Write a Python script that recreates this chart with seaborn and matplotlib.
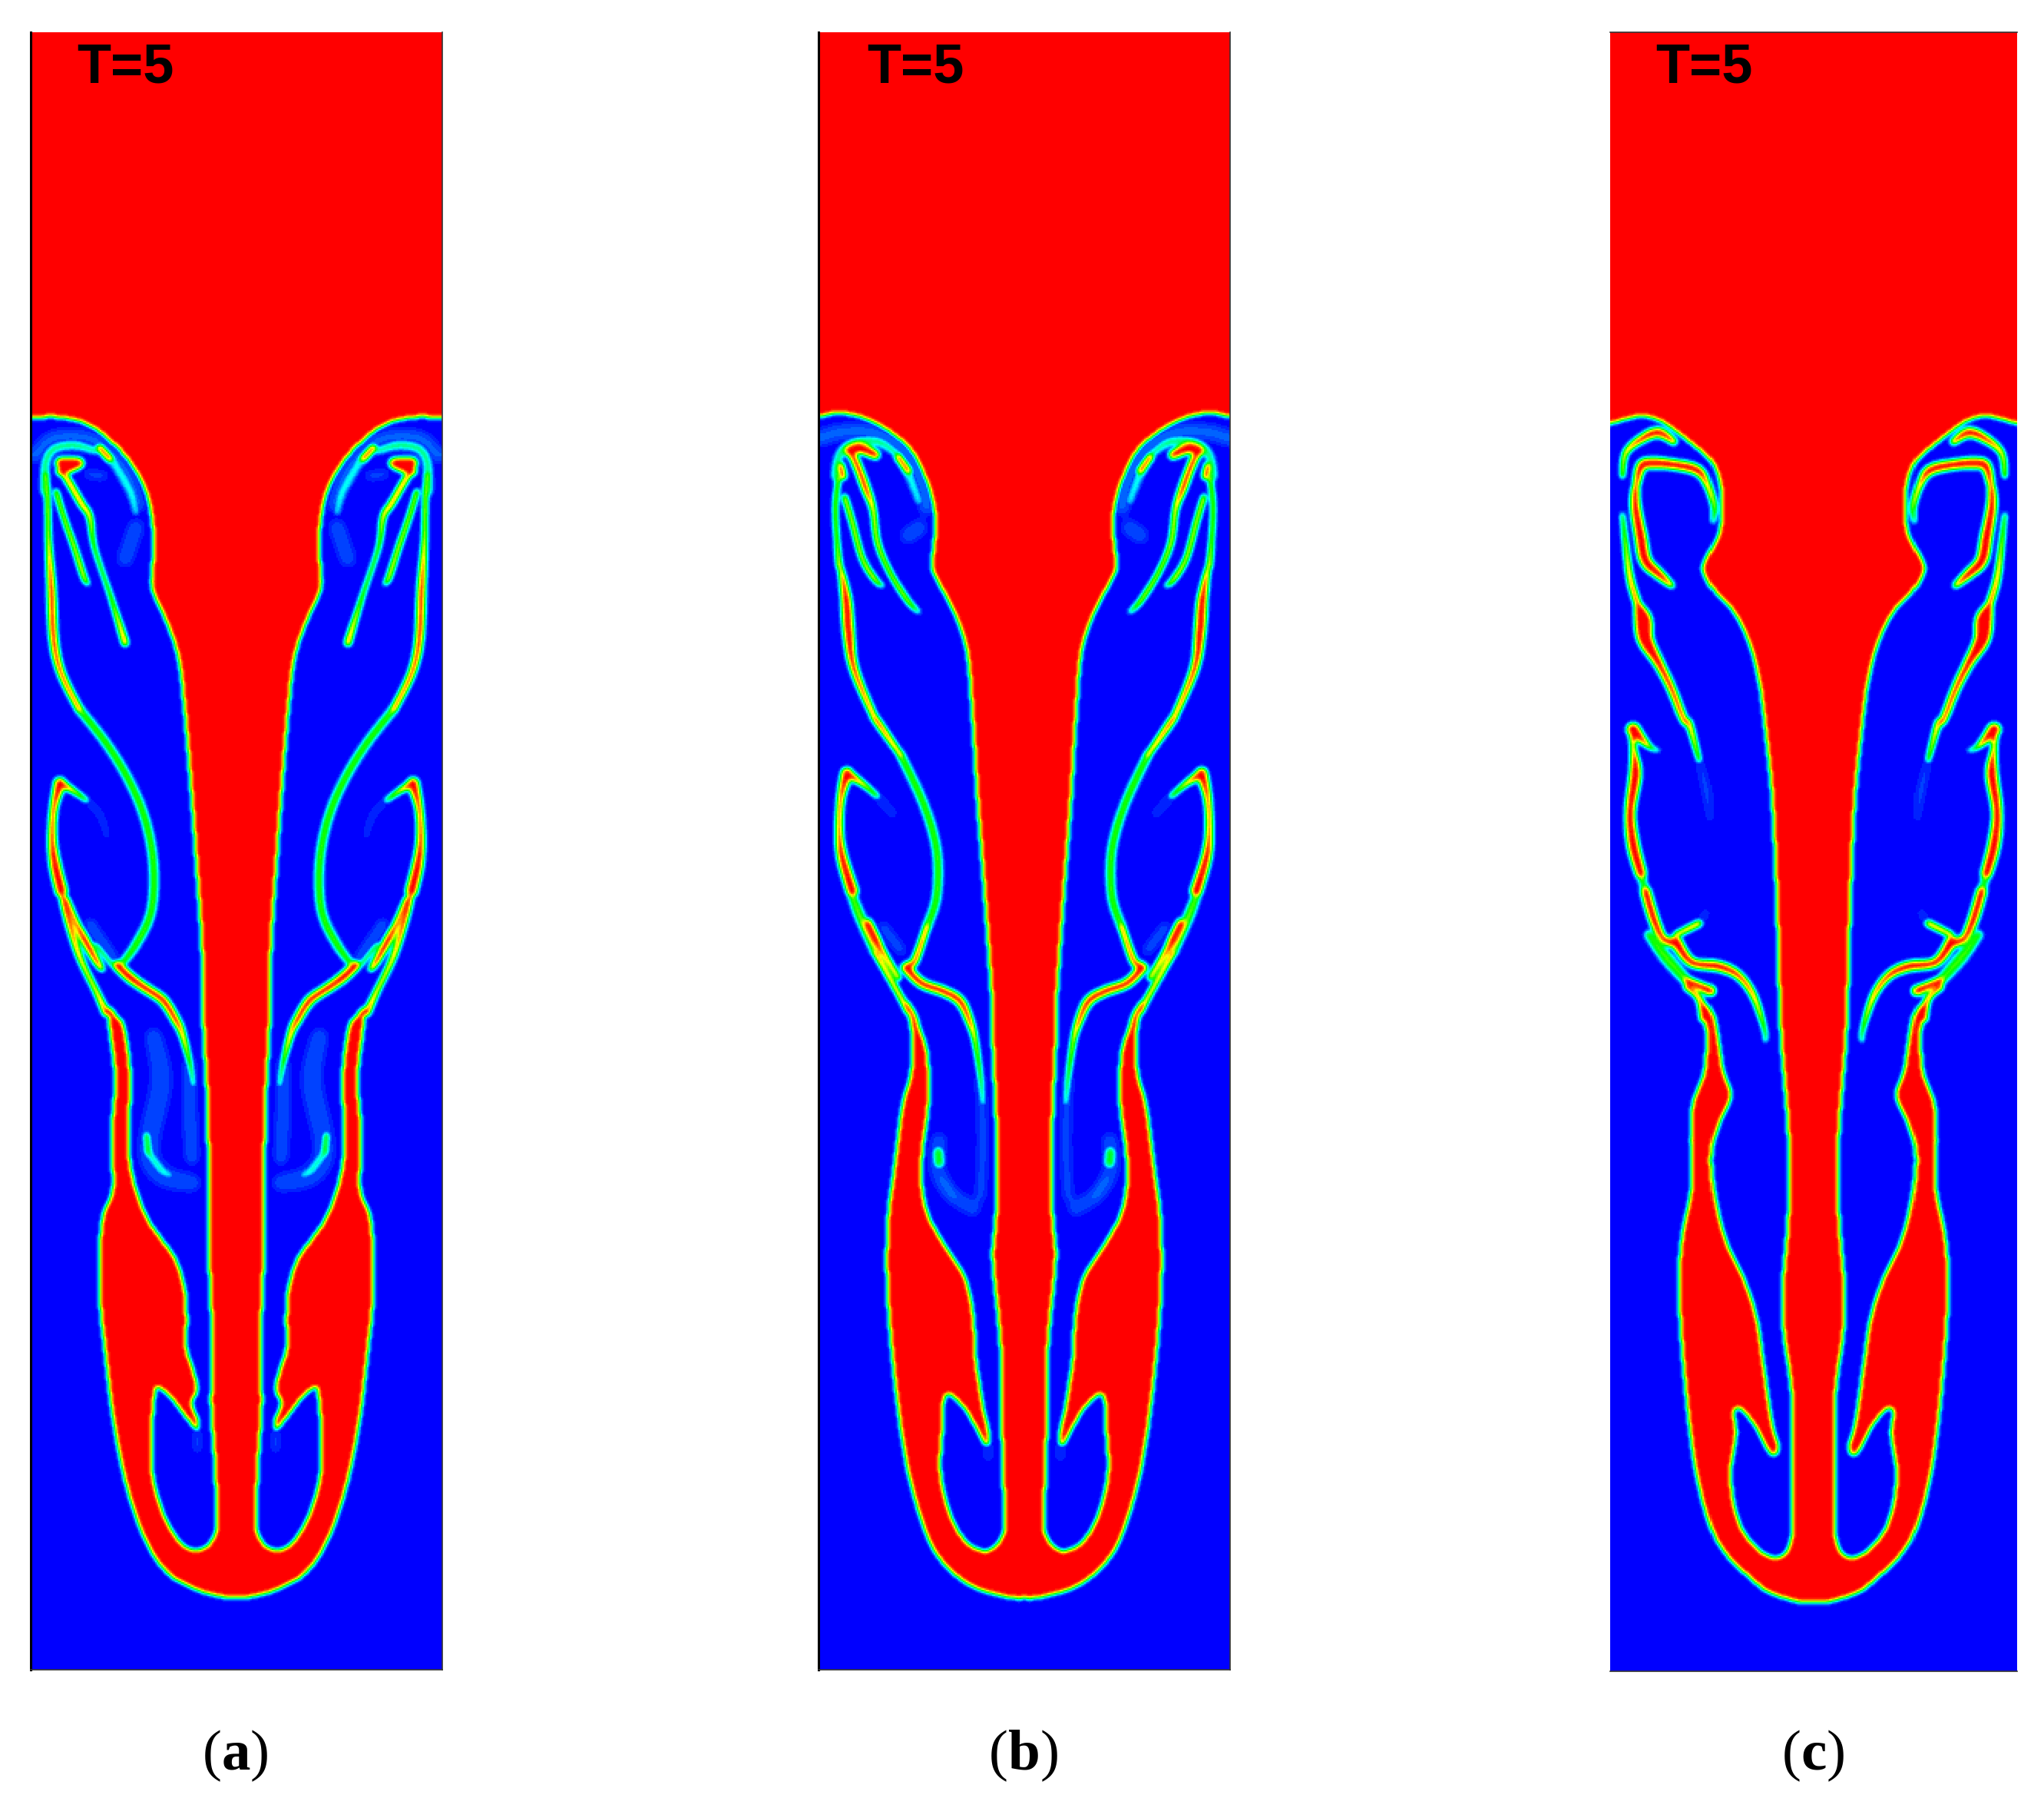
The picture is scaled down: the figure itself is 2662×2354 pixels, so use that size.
import numpy as np
import seaborn as sns
import matplotlib
matplotlib.use("Agg")
import matplotlib.pyplot as plt
from matplotlib.colors import LinearSegmentedColormap
from matplotlib.path import Path

# all traced values are image pixels of the reference (x, y) or (x, y, half width)
WIDTH, HEIGHT = 2662, 2354
STEP = 2
BLUR = 3.0
HAZE_BLUR = 5.0
HAZE_GAIN = 0.7
WIDTH_GAIN = 1.2

T_LABEL = "T=5"
CAPTIONS = ["a", "b", "c"]
PANEL_LEFT = [40, 1066, 2097]
PANEL_RIGHT = [576, 1602, 2627]
PANEL_TOP = [42, 42, 42]
PANEL_BOTTOM = [2174, 2174, 2176]
T_X = [100, 1129, 2156]
CAPTION_X = [307, 1334, 2362]

# red region of the left half of each panel, first two points are the top corners
OUTLINE_A = [(40, 42), (308, 42), (308, 2081), (290, 2079), (257, 2070), (217, 2047), (187, 2000),
             (163, 1927), (147, 1843), (137, 1760), (130, 1690), (130, 1623), (135, 1580), (147, 1547),
             (145, 1480), (150, 1407), (143, 1340), (140, 1312), (150, 1320), (162, 1340), (170, 1407),
             (167, 1480), (173, 1533), (190, 1583), (210, 1613), (230, 1643), (242, 1690), (243, 1757),
             (247, 1770), (257, 1807), (250, 1827), (258, 1850), (255, 1860), (223, 1820), (212, 1810),
             (202, 1813), (197, 1893), (203, 1940), (217, 1980), (237, 2010), (257, 2018), (275, 2007),
             (282, 1983), (280, 1910), (275, 1827), (277, 1760), (273, 1657), (272, 1573), (270, 1440),
             (265, 1337), (263, 1237), (255, 1113), (247, 1003), (240, 920), (233, 860), (220, 817),
             (202, 777), (197, 757), (200, 717), (198, 677), (190, 640), (173, 607), (147, 577),
             (113, 552), (73, 543), (40, 545)]

OUTLINE_B = [(1066, 42), (1334, 42), (1334, 2081), (1310, 2079), (1260, 2062), (1217, 2019), (1190, 1946),
             (1173, 1859), (1160, 1742), (1155, 1655), (1157, 1582), (1165, 1519), (1175, 1442),
             (1187, 1393), (1187, 1340), (1180, 1305), (1192, 1320), (1198, 1340), (1207, 1369),
             (1210, 1427), (1202, 1495), (1200, 1534), (1207, 1577), (1227, 1616), (1257, 1665),
             (1268, 1718), (1270, 1762), (1280, 1830), (1288, 1868), (1283, 1880), (1260, 1839),
             (1240, 1817), (1230, 1820), (1228, 1854), (1225, 1917), (1237, 1970), (1257, 2006),
             (1280, 2019), (1295, 2014), (1306, 1998), (1308, 1975), (1305, 1873), (1303, 1752),
             (1293, 1640), (1297, 1582), (1298, 1485), (1292, 1340), (1292, 1307), (1283, 1173),
             (1273, 1040), (1267, 940), (1260, 853), (1247, 807), (1227, 767), (1215, 743), (1215, 720),
             (1218, 687), (1215, 653), (1203, 617), (1187, 587), (1160, 563), (1127, 545), (1093, 538),
             (1066, 543)]

OUTLINE_C = [(2097, 42), (2362, 42), (2362, 2087), (2340, 2085), (2310, 2076), (2287, 2062), (2237, 2009),
             (2210, 1922), (2195, 1805), (2187, 1689), (2190, 1616), (2203, 1544), (2202, 1485), (2205, 1437),
             (2220, 1393), (2222, 1340), (2218, 1305), (2230, 1320), (2235, 1340), (2243, 1393),
             (2253, 1427), (2237, 1466), (2228, 1505), (2233, 1558), (2247, 1616), (2270, 1665),
             (2287, 1718), (2297, 1786), (2307, 1854), (2315, 1885), (2305, 1893), (2283, 1854),
             (2265, 1834), (2257, 1839), (2260, 1868), (2253, 1922), (2263, 1980), (2287, 2016),
             (2310, 2028), (2324, 2022), (2332, 2002), (2333, 1970), (2333, 1825), (2320, 1704), (2328, 1582),
             (2328, 1476), (2318, 1340), (2313, 1173), (2307, 1040), (2297, 940), (2290, 887),
             (2277, 837), (2257, 797), (2227, 763), (2218, 743), (2220, 730), (2237, 697), (2242, 660),
             (2237, 620), (2223, 595), (2183, 562), (2160, 547), (2137, 542), (2113, 547), (2097, 552)]

# thin strands, each one (peak level, points), low levels are the pale patches
STRANDS_A = [
    (0.6, [(157, 1257, 3), (177, 1230, 4), (197, 1187, 4), (200, 1127, 4), (190, 1070, 4), (170, 1020, 4),
           (140, 970, 4), (103, 923, 4)]),
    (1.0, [(103, 923, 3.2), (80, 877, 3.5), (70, 833, 4), (67, 767, 4), (63, 700, 2.2), (62, 650, 2), (60, 617, 1.5)]),
    (1.0, [(153, 1257, 5), (170, 1273, 5), (190, 1287, 4.5), (213, 1303, 4.5), (230, 1330, 4), (237, 1345, 3),
           (247, 1383, 1.6), (252, 1413, 0.8)]),
    (1.0, [(78, 1020, 6), (70, 1053, 3.5), (68, 1093, 4), (72, 1127, 5.5), (80, 1160, 6)]),
    (1.0, [(78, 1020, 5), (93, 1028, 2.5), (113, 1042, 1.3)]),
    (0.14, [(113, 1042, 3), (130, 1060, 3), (140, 1090, 2.5)]),
    (1.0, [(80, 1160, 3), (87, 1190, 3.5), (100, 1235, 3), (110, 1260, 2.5), (125, 1290, 2.5), (138, 1318, 3.5)]),
    (1.0, [(87, 1170, 1.8), (100, 1203, 3), (110, 1223, 4.5), (127, 1253, 3.5), (133, 1262, 2)]),
    (0.15, [(117, 1203, 6), (140, 1237, 6), (150, 1250, 5)]),
    (1.0, [(125, 1230, 1.2), (145, 1255, 1.2)]),
    (1.0, [(80, 603, 6), (103, 603, 5), (80, 613, 5)]),
    (1.0, [(84, 618, 3), (93, 633, 3), (107, 657, 3), (117, 673, 2.5), (123, 713, 1.6), (143, 773, 1.6), (163, 837, 3.2)]),
    (1.0, [(73, 640, 2), (83, 673, 2), (97, 713, 2.2), (110, 753, 2.2), (116, 760, 0.7)]),
    (1.0, [(130, 583, 3.5), (143, 597, 3.5)]),
    (0.4, [(58, 640, 4), (60, 600, 4), (73, 583, 4), (100, 580, 4), (123, 587, 3)]),
    (0.3, [(147, 600, 4), (170, 640, 4), (177, 667, 2.5)]),
    (0.15, [(47, 593, 8), (70, 570, 8), (123, 573, 8), (163, 613, 8), (180, 657, 8)]),
    (0.13, [(177, 687, 9), (163, 727, 9)]),
    (0.13, [(115, 617, 5), (135, 620, 5)]),
    (0.12, [(200, 1350, 10), (210, 1407, 12), (195, 1480, 12), (197, 1513, 12), (217, 1533, 12), (250, 1540, 10)]),
    (0.13, [(247, 1383, 7), (247, 1440, 8), (250, 1507, 8)]),
    (0.55, [(191, 1478, 3), (193, 1500, 3.5)]),
    (0.35, [(193, 1500, 3.5), (210, 1523, 3.5), (222, 1530, 2)]),
    (0.14, [(257, 1866, 4), (257, 1887, 4)]),
]

STRANDS_B = [
    (0.15, [(1070, 570, 9), (1093, 563, 9), (1137, 563, 9), (1177, 587, 9), (1200, 627, 9), (1207, 660, 9)]),
    (0.13, [(1183, 697, 9), (1197, 687, 9)]),
    (0.4, [(1088, 620, 4), (1093, 593, 4), (1110, 577, 4), (1143, 575, 4), (1167, 590, 3)]),
    (0.3, [(1167, 590, 3), (1183, 617, 4), (1197, 653, 3)]),
    (1.0, [(1170, 595, 3.5), (1183, 613, 3.5)]),
    (1.0, [(1107, 587, 6), (1120, 583, 6), (1140, 592, 4.5)]),
    (1.0, [(1110, 592, 4), (1118, 610, 4), (1128, 637, 4), (1137, 663, 2.5), (1143, 707, 2.2), (1160, 747, 2),
           (1183, 783, 2), (1197, 797, 0.8)]),
    (1.0, [(1095, 607, 3.5), (1098, 620, 3.5)]),
    (1.0, [(1100, 647, 2.2), (1110, 680, 2.2), (1123, 727, 2.2), (1140, 755, 2.2), (1150, 763, 0.8)]),
    (1.0, [(1092, 623, 1.8), (1088, 660, 1.8), (1090, 703, 1.8), (1093, 737, 2.5)]),
    (1.0, [(1095, 740, 2.2), (1102, 780, 5), (1105, 820, 5.5), (1112, 870, 4), (1137, 930, 3), (1143, 940, 3.5),
           (1173, 983, 2.5)]),
    (0.6, [(1173, 983, 4), (1203, 1047, 4), (1220, 1107, 4), (1220, 1167, 4), (1207, 1207, 4)]),
    (1.0, [(1207, 1207, 3), (1192, 1250, 3.5), (1183, 1257, 4)]),
    (1.0, [(1180, 1260, 5), (1200, 1280, 4.5), (1227, 1290, 4.5), (1250, 1303, 4.5), (1263, 1330, 3.5),
           (1270, 1355, 2.2), (1277, 1403, 1.4), (1280, 1437, 0.8)]),
    (1.0, [(1103, 1007, 6), (1095, 1040, 3.5), (1093, 1083, 3.5), (1097, 1117, 5), (1110, 1160, 6)]),
    (1.0, [(1103, 1007, 5), (1123, 1020, 2.5), (1143, 1037, 1.4)]),
    (0.13, [(1143, 1037, 4), (1163, 1060, 4)]),
    (0.6, [(1110, 1167, 4), (1120, 1193, 5), (1140, 1240, 4)]),
    (1.0, [(1140, 1240, 2.8), (1170, 1293, 2.5), (1183, 1317, 3)]),
    (1.0, [(1130, 1203, 5), (1140, 1223, 5), (1150, 1240, 3), (1170, 1273, 2.4)]),
    (0.13, [(1150, 1207, 6), (1173, 1237, 6)]),
    (0.5, [(1222, 1500, 5), (1223, 1514, 5)]),
    (0.12, [(1223, 1485, 9), (1220, 1519, 9), (1237, 1553, 9), (1267, 1573, 9)]),
    (0.12, [(1277, 1403, 6), (1280, 1485, 6), (1277, 1558, 6)]),
    (0.2, [(1227, 1534, 3), (1243, 1558, 3)]),
    (0.12, [(1287, 1884, 5), (1287, 1897, 5)]),
]

STRANDS_C = [
    (1.0, [(2113, 620, 1.8), (2117, 590, 2.5), (2137, 572, 4), (2160, 563, 5), (2180, 575, 3)]),
    (1.0, [(2130, 637, 3), (2137, 608, 5), (2150, 603, 5.5), (2180, 605, 5), (2210, 612, 5), (2223, 630, 3),
           (2232, 660, 2), (2230, 680, 0.9)]),
    (1.0, [(2130, 637, 4), (2130, 660, 5), (2137, 700, 6), (2143, 730, 6), (2160, 747, 5), (2177, 762, 2.5)]),
    (1.0, [(2113, 670, 1.3), (2117, 707, 2), (2123, 753, 3), (2133, 787, 3.5)]),
    (1.0, [(2133, 787, 3.5), (2140, 807, 9), (2143, 833, 8), (2160, 863, 5), (2177, 897, 4), (2193, 937, 3.5),
           (2200, 943, 3), (2213, 990, 1.5)]),
    (0.15, [(2213, 990, 3), (2223, 1033, 4), (2227, 1070, 2)]),
    (1.0, [(2127, 950, 7), (2148, 972, 2), (2160, 977, 0.7)]),
    (1.0, [(2127, 950, 5), (2127, 973, 2.5), (2130, 1007, 6), (2123, 1057, 5), (2127, 1100, 6), (2137, 1137, 5.5)]),
    (0.55, [(2137, 1137, 4), (2140, 1150, 4)]),
    (1.0, [(2143, 1160, 5), (2155, 1200, 5), (2167, 1223, 4), (2183, 1227, 6)]),
    (1.0, [(2183, 1217, 2.5), (2213, 1202, 2.8)]),
    (0.15, [(2213, 1202, 3), (2223, 1187, 3)]),
    (1.0, [(2183, 1227, 6), (2203, 1253, 4.5), (2237, 1258, 5), (2263, 1270, 4), (2283, 1297, 3), (2297, 1340, 1.5),
           (2298, 1355, 1)]),
    (0.55, [(2147, 1217, 4), (2170, 1247, 6), (2197, 1277, 5)]),
    (1.0, [(2197, 1277, 4), (2227, 1290, 5)]),
    (1.0, [(2197, 1285, 3), (2213, 1300, 3), (2220, 1325, 5)]),
]

OUTLINES = [OUTLINE_A, OUTLINE_B, OUTLINE_C]
STRANDS = [STRANDS_A, STRANDS_B, STRANDS_C]


def spline(points, n=8):
    # Catmull-Rom curve through the traced points, drawn as short segments
    p = np.asarray(points, dtype=float)
    p = np.vstack([p[0], p, p[-1]])
    out = [p[1]]
    for k in range(1, len(p) - 2):
        for t in np.linspace(0, 1, n + 1)[1:]:
            out.append(0.5 * (2 * p[k] + (p[k + 1] - p[k - 1]) * t
                              + (2 * p[k - 1] - 5 * p[k] + 4 * p[k + 1] - p[k + 2]) * t ** 2
                              + (3 * p[k] - p[k - 1] - 3 * p[k + 1] + p[k + 2]) * t ** 3))
    return np.array(out)


def smooth(field, sigma_px):
    sigma = sigma_px / STEP
    radius = int(4 * sigma) + 1
    kernel = np.exp(-0.5 * (np.arange(-radius, radius + 1) / sigma) ** 2)
    kernel /= kernel.sum()
    padded = np.pad(field, radius, mode="edge")
    padded = np.apply_along_axis(np.convolve, 0, padded, kernel, mode="same")
    padded = np.apply_along_axis(np.convolve, 1, padded, kernel, mode="same")
    return padded[radius:-radius, radius:-radius]


def add_strand(field, xs, ys, level, points):
    # max of round tubes along the curve, half width follows the points
    curve = spline(points, 4)
    for (x0, y0, w0), (x1, y1, w1) in zip(curve[:-1], curve[1:]):
        w0, w1 = max(w0, 0.3) * WIDTH_GAIN, max(w1, 0.3) * WIDTH_GAIN
        pad = max(w0, w1) + STEP
        ix = np.where((xs >= min(x0, x1) - pad) & (xs <= max(x0, x1) + pad))[0]
        iy = np.where((ys >= min(y0, y1) - pad) & (ys <= max(y0, y1) + pad))[0]
        if len(ix) == 0 or len(iy) == 0:
            continue
        xx, yy = np.meshgrid(xs[ix], ys[iy])
        dx, dy = x1 - x0, y1 - y0
        t = np.clip(((xx - x0) * dx + (yy - y0) * dy) / max(dx * dx + dy * dy, 1e-6), 0, 1)
        dist = np.hypot(xx - x0 - t * dx, yy - y0 - t * dy)
        w = w0 + (w1 - w0) * t
        value = level * np.clip((w - dist) / STEP + 0.5, 0, 1)
        box = np.ix_(iy, ix)
        field[box] = np.maximum(field[box], value)


def build_field(i):
    left, right = PANEL_LEFT[i], PANEL_RIGHT[i]
    top, bottom = PANEL_TOP[i], PANEL_BOTTOM[i]
    center = (left + right) / 2
    xs = np.arange(left + STEP / 2, center, STEP)
    ys = np.arange(top + STEP / 2, bottom, STEP)
    xx, yy = np.meshgrid(xs, ys)
    corners = OUTLINES[i][:2]
    ring = np.vstack([corners, spline(OUTLINES[i][2:])])
    inside = Path(ring).contains_points(np.column_stack([xx.ravel(), yy.ravel()]))
    field = inside.reshape(xx.shape).astype(float)
    haze = np.zeros_like(field)
    for level, points in STRANDS[i]:
        if level < 0.25:
            add_strand(haze, xs, ys, level * HAZE_GAIN, points)
        else:
            add_strand(field, xs, ys, level, points)
    field = np.maximum(smooth(field, BLUR), smooth(haze, HAZE_BLUR))
    return np.hstack([field, field[:, ::-1]])


flood = LinearSegmentedColormap.from_list(
    "flood", ["#0000ff", "#00ffff", "#00ff00", "#ffff00", "#ff0000"], N=32)

sns.set_theme(style="white")
plt.rcParams["font.family"] = ["Liberation Sans", "DejaVu Sans"]

fig = plt.figure(figsize=(WIDTH / 100, HEIGHT / 100), dpi=100)

for i in range(3):
    l, r, t, b = PANEL_LEFT[i], PANEL_RIGHT[i], PANEL_TOP[i], PANEL_BOTTOM[i]
    ax = fig.add_axes([l / WIDTH, 1 - b / HEIGHT, (r - l) / WIDTH, (b - t) / HEIGHT])
    sns.heatmap(build_field(i), ax=ax, cmap=flood, vmin=0, vmax=1, cbar=False,
                xticklabels=False, yticklabels=False)
    for name, spine in ax.spines.items():
        spine.set_visible(True)
        spine.set_linewidth(1.2)
        spine.set_color("#333333")
    if i < 2:
        ax.spines["left"].set_linewidth(2.2)
        ax.spines["left"].set_color("black")
        ax.spines["top"].set_visible(False)
    else:
        ax.spines["left"].set_visible(False)
        ax.spines["right"].set_visible(False)
    fig.text(T_X[i] / WIDTH, 1 - 108 / HEIGHT, T_LABEL, fontsize=52, fontweight="bold",
             color="black", ha="left", va="baseline")

# caption: upright brackets around a bold letter, centred under the panel
renderer = fig.canvas.get_renderer()
for i in range(3):
    y = 1 - 2304 / HEIGHT
    parts = [("(", "normal"), (CAPTIONS[i], "bold"), (")", "normal")]
    texts = [fig.text(0, y, s, fontsize=54, fontweight=w, family="Liberation Serif",
                      color="black", va="baseline") for s, w in parts]
    widths = [tx.get_window_extent(renderer).width for tx in texts]
    x = CAPTION_X[i] - sum(widths) / 2
    for tx, w in zip(texts, widths):
        tx.set_x(x / WIDTH)
        x += w

fig.savefig("out.png", dpi=100, facecolor="white")
